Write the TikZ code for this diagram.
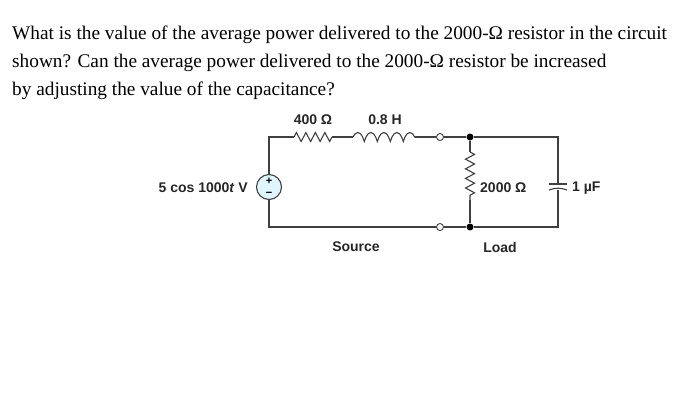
\documentclass[tikz,border=0pt]{standalone}
\usepackage{fontspec}
\setmainfont{Liberation Serif}
\newfontfamily\lab{Liberation Sans}
\usetikzlibrary{decorations.pathmorphing}
\begin{document}
\begin{tikzpicture}[x=1pt,y=-1pt,
  w/.style={line width=1.1pt,black!75},
  lbl/.style={font=\lab\bfseries\fontsize{14}{16}\selectfont,inner sep=0pt,black!85},
  txt/.style={font=\fontsize{19.3}{22}\selectfont,anchor=base west,inner sep=0pt},
  dot/.style={circle,fill=black,inner sep=0pt,minimum size=7pt},
  term/.style={circle,draw=black!75,fill=white,line width=0.9pt,inner sep=0pt,minimum size=7pt}]
\useasboundingbox (0,0) rectangle (700,400);
\node[txt] (t1) at (12,39) {What is the value of the average power delivered to the 2000-Ω resistor in the circuit};
\node[txt] (t2) at (12,67) {shown? Can the average power delivered to the 2000-Ω resistor be increased};
\node[txt] (t3) at (12,95) {by adjusting the value of the capacitance?};
% coordinates
\coordinate (tl) at (269,137);
\coordinate (bl) at (269,227);
\coordinate (r1a) at (294,137);
\coordinate (r1b) at (332,137);
\coordinate (l1a) at (353,137);
\coordinate (l1b) at (415,137);
\coordinate (tr) at (558,137);
\coordinate (br) at (558,227);
\coordinate (r2a) at (470,152);
\coordinate (r2b) at (470,200);
\coordinate (c1) at (558,184);
\coordinate (c2) at (558,190);
\node[term] (ot) at (440,137) {};
\node[term] (ob) at (440,227) {};
\node[dot] (jt) at (470,137) {};
\node[dot] (jb) at (470,227) {};
\node[circle,draw=black!75,line width=1.1pt,fill=cyan!12,minimum size=25pt,inner sep=0pt] (src) at (269,187) {};
\node[font=\lab\bfseries\fontsize{11}{11}\selectfont,inner sep=0pt] (pl) at (269,181) {+};
\node[font=\lab\bfseries\fontsize{11}{11}\selectfont,inner sep=0pt] (mi) at (269,194) {\textminus};
% wires
\draw[w] (src.north) -- (tl) -- (r1a);
\draw[w,decorate,decoration={zigzag,segment length=9.5pt,amplitude=4.5pt}] (r1a) -- (r1b);
\draw[w] (r1b) -- (l1a);
\draw[w,decorate,decoration={coil,aspect=0.35,segment length=13pt,amplitude=4.5pt}] (l1a) -- (l1b);
\draw[w] (l1b) -- (ot) -- (jt) -- (tr) -- (c1);
\draw[w] (src.south) -- (bl) -- (ob) -- (jb) -- (br) -- (c2);
\draw[w] (jt) -- (r2a);
\draw[w,decorate,decoration={zigzag,segment length=9.6pt,amplitude=4.5pt}] (r2a) -- (r2b);
\draw[w] (r2b) -- (jb);
\draw[w] ([xshift=-9pt]c1) -- ([xshift=9pt]c1);
\draw[w] ([xshift=-9pt]c2) to[bend left=20] ([xshift=9pt]c2);
% labels
\node[lbl] (l400) at (313,120) {400 Ω};
\node[lbl] (l08) at (385,120) {0.8 H};
\node[lbl,anchor=east] (lv) at (248,188) {5 cos 1000\textit{t} V};
\node[lbl,anchor=west] (l2000) at (480,188) {2000 Ω};
\node[lbl,anchor=west] (lc) at (572,188) {1 \textmu F};
\node[lbl] (ls) at (356,247) {Source};
\node[lbl] (ll) at (500,247) {Load};
\end{tikzpicture}
\end{document}
